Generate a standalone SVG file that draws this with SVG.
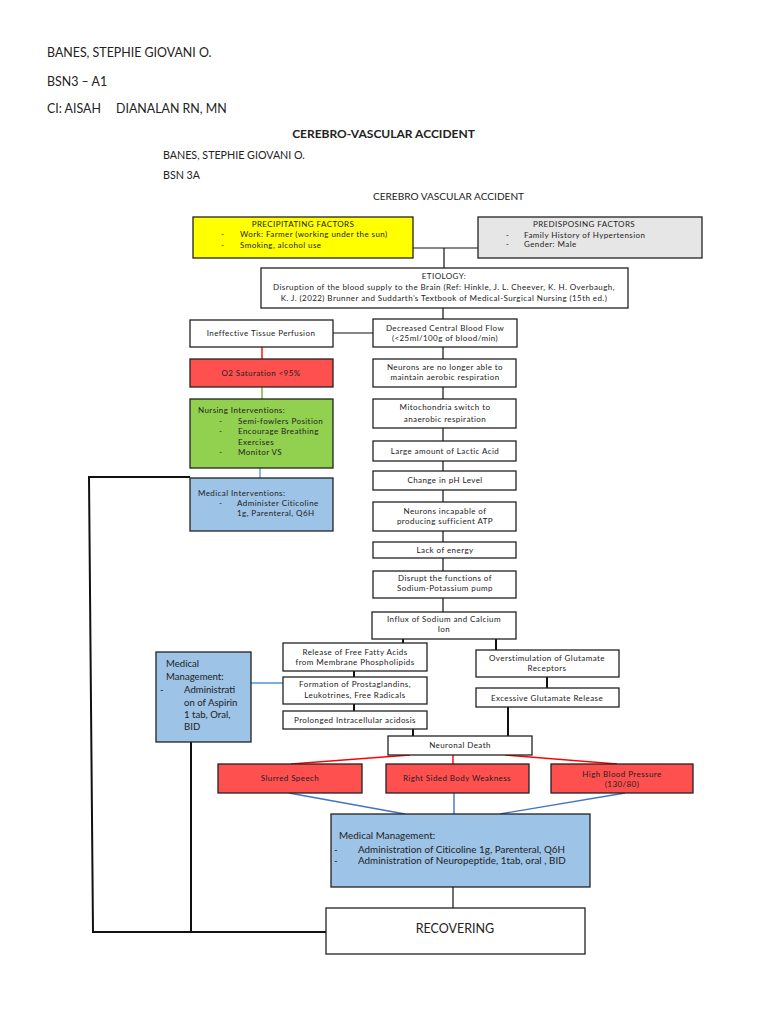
<svg xmlns="http://www.w3.org/2000/svg" width="768" height="1024" viewBox="0 0 768 1024">
<style>
text{font-family:Lato,"Liberation Sans",sans-serif;fill:#222}
.hd{font-size:12.4px}
.sm{font-size:10.7px}
.bx{stroke:#222;stroke-width:1.3}
.t{font-size:8px;letter-spacing:0.42px}
.c{text-anchor:middle}
.m{font-size:9.6px}
.mb{font-size:9.8px;letter-spacing:0.05px}
.k{stroke:#111;stroke-width:1.2;fill:none}
.kb{stroke:#111;stroke-width:2;fill:none}
.r{stroke:#ff0000;stroke-width:1.4;fill:none}
.b{stroke:#4472c4;stroke-width:1.4;fill:none}
</style>
<rect width="768" height="1024" fill="#fff"/>
<g id="header">
<text class="hd" x="47" y="57">BANES, STEPHIE GIOVANI O.</text>
<text class="hd" x="47" y="85.5">BSN3 – A1</text>
<text class="hd" x="47" y="113">CI: AISAH</text>
<text class="hd" x="116" y="113">DIANALAN RN, MN</text>
<text x="383.5" y="138" text-anchor="middle" font-weight="bold" font-size="12">CEREBRO-VASCULAR ACCIDENT</text>
<text class="sm" x="163" y="159">BANES, STEPHIE GIOVANI O.</text>
<text class="sm" x="163" y="179">BSN 3A</text>
<text x="448.5" y="200" text-anchor="middle" font-size="10.1">CEREBRO VASCULAR ACCIDENT</text>
</g>
<g id="connectors">
<path class="k" d="M413 248H478M444 248V268M443 308V319M333 333H373"/>
<path class="k" d="M443 347V359M443 387V399M443 428V441M443 461V471M443 490V502M443 531V542M443 558V571M443 598V612"/>
<path class="kb" d="M403 639V643M496 639V650M354 671V677M354 704V711M547 677V688M508 707V736M413 729V736"/>
<path d="M262 347V359" stroke="#ff0000" stroke-width="1.4"/>
<path d="M262 387V399" stroke="#70ad47" stroke-width="1.4"/>
<path d="M260 468V478" stroke="#5b9bd5" stroke-width="1.4"/>
<path d="M251 683H283" stroke="#5b9bd5" stroke-width="1.6"/>
<path class="r" d="M410 755L291 764M453 755V764M505 755L617 764"/>
<path class="b" d="M289 793L405 814M454 793V814M625 793L500 814"/>
<path class="k" d="M453 887V908"/>
<path class="kb" d="M190 477H89L93 932H326M191 742V932"/>
</g>
<g id="precipitating">
<rect class="bx" x="193" y="217" width="220" height="41" fill="#ffff00"/>
<text class="t c" x="303" y="227">PRECIPITATING FACTORS</text>
<text class="t" x="221" y="237">-</text>
<text class="t" x="240" y="237">Work: Farmer (working under the sun)</text>
<text class="t" x="221" y="248">-</text>
<text class="t" x="240" y="248">Smoking, alcohol use</text>
</g>
<g id="predisposing">
<rect class="bx" x="478" y="217" width="224" height="41" fill="#e7e6e6"/>
<text class="t c" x="584" y="227">PREDISPOSING FACTORS</text>
<text class="t" x="506" y="238">-</text>
<text class="t" x="524" y="238">Family History of Hypertension</text>
<text class="t" x="506" y="247">-</text>
<text class="t" x="524" y="247">Gender: Male</text>
</g>
<g id="etiology">
<rect class="bx" x="261" y="268" width="367" height="40" fill="#fff"/>
<text class="t c" x="444" y="279">ETIOLOGY:</text>
<text class="t c" x="444" y="289.5">Disruption of the blood supply to the Brain (Ref: Hinkle, J. L. Cheever, K. H. Overbaugh,</text>
<text class="t c" x="444" y="300.5">K. J. (2022) Brunner and Suddarth’s Textbook of Medical-Surgical Nursing (15th ed.)</text>
</g>
<g id="ineffective">
<rect class="bx" x="190" y="320" width="143" height="27" fill="#fff"/>
<text class="t c" x="261" y="336">Ineffective Tissue Perfusion</text>
</g>
<g id="decreased">
<rect class="bx" x="373" y="319" width="144" height="28" fill="#fff"/>
<text class="t c" x="445" y="330.5">Decreased Central Blood Flow</text>
<text class="t c" x="445" y="340.5">(&lt;25ml/100g of blood/min)</text>
</g>
<g id="o2">
<rect class="bx" x="190" y="359" width="143" height="28" fill="#ff5050"/>
<text class="t c" x="261" y="375.5">O2 Saturation &lt;95%</text>
</g>
<g id="nursing">
<rect class="bx" x="190" y="399" width="143" height="69" fill="#92d050"/>
<text class="t" x="198" y="413">Nursing Interventions:</text>
<text class="t" x="219" y="423.5">-</text>
<text class="t" x="238" y="423.5">Semi-fowlers Position</text>
<text class="t" x="219" y="434">-</text>
<text class="t" x="238" y="434">Encourage Breathing</text>
<text class="t" x="238" y="444.5">Exercises</text>
<text class="t" x="219" y="455">-</text>
<text class="t" x="238" y="455">Monitor VS</text>
</g>
<g id="medint">
<rect class="bx" x="190" y="478" width="143" height="53" fill="#9dc3e6"/>
<text class="t" x="198" y="496">Medical Interventions:</text>
<text class="t" x="219" y="506">-</text>
<text class="t" x="237" y="506">Administer Citicoline</text>
<text class="t" x="237" y="515.5">1g, Parenteral, Q6H</text>
</g>
<g id="neurons1">
<rect class="bx" x="373" y="359" width="143" height="28" fill="#fff"/>
<text class="t c" x="445" y="369.5">Neurons are no longer able to</text>
<text class="t c" x="445" y="379.5">maintain aerobic respiration</text>
</g>
<g id="mito">
<rect class="bx" x="373" y="399" width="143" height="29" fill="#fff"/>
<text class="t c" x="445" y="410">Mitochondria switch to</text>
<text class="t c" x="445" y="421.5">anaerobic respiration</text>
</g>
<g id="lactic">
<rect class="bx" x="373" y="441" width="143" height="20" fill="#fff"/>
<text class="t c" x="445" y="453.5">Large amount of Lactic Acid</text>
</g>
<g id="ph">
<rect class="bx" x="373" y="471" width="143" height="19" fill="#fff"/>
<text class="t c" x="445" y="483">Change in pH Level</text>
</g>
<g id="atp">
<rect class="bx" x="373" y="502" width="143" height="29" fill="#fff"/>
<text class="t c" x="445" y="513.5">Neurons incapable of</text>
<text class="t c" x="445" y="523.5">producing sufficient ATP</text>
</g>
<g id="energy">
<rect class="bx" x="373" y="542" width="143" height="16" fill="#fff"/>
<text class="t c" x="445" y="552.5">Lack of energy</text>
</g>
<g id="disrupt">
<rect class="bx" x="373" y="571" width="143" height="27" fill="#fff"/>
<text class="t c" x="445" y="580.5">Disrupt the functions of</text>
<text class="t c" x="445" y="590.5">Sodium-Potassium pump</text>
</g>
<g id="influx">
<rect class="bx" x="372" y="612" width="144" height="27" fill="#fff"/>
<text class="t c" x="444" y="622">Influx of Sodium and Calcium</text>
<text class="t c" x="444" y="631.5">Ion</text>
</g>
<g id="release">
<rect class="bx" x="283" y="643" width="144" height="28" fill="#fff"/>
<text class="t c" x="355" y="655">Release of Free Fatty Acids</text>
<text class="t c" x="355" y="665">from Membrane Phospholipids</text>
</g>
<g id="formation">
<rect class="bx" x="283" y="677" width="144" height="27" fill="#fff"/>
<text class="t c" x="355" y="687">Formation of Prostaglandins,</text>
<text class="t c" x="355" y="697.5">Leukotrines, Free Radicals</text>
</g>
<g id="prolonged">
<rect class="bx" x="283" y="711" width="144" height="18" fill="#fff"/>
<text class="t c" x="355" y="722.5">Prolonged Intracellular acidosis</text>
</g>
<g id="overstim">
<rect class="bx" x="476" y="650" width="143" height="27" fill="#fff"/>
<text class="t c" x="547" y="661">Overstimulation of Glutamate</text>
<text class="t c" x="547" y="671">Receptors</text>
</g>
<g id="excessive">
<rect class="bx" x="476" y="688" width="143" height="19" fill="#fff"/>
<text class="t c" x="547" y="700.5">Excessive Glutamate Release</text>
</g>
<g id="aspirin">
<rect class="bx" x="156" y="652" width="95" height="90" fill="#9dc3e6"/>
<text class="m" x="166" y="667">Medical</text>
<text class="m" x="166" y="680">Management:</text>
<text class="m" x="160" y="693">-</text>
<text class="m" x="184" y="693">Administrati</text>
<text class="m" x="184" y="705.5">on of Aspirin</text>
<text class="m" x="184" y="718">1 tab, Oral,</text>
<text class="m" x="184" y="730">BID</text>
</g>
<g id="death">
<rect class="bx" x="388" y="736" width="144" height="19" fill="#fff"/>
<text class="t c" x="460" y="747.5">Neuronal Death</text>
</g>
<g id="slurred">
<rect class="bx" x="218" y="764" width="144" height="29" fill="#ff5050"/>
<text class="t c" x="290" y="781">Slurred Speech</text>
</g>
<g id="weakness">
<rect class="bx" x="386" y="764" width="143" height="29" fill="#ff5050"/>
<text class="t c" x="457" y="781">Right Sided Body Weakness</text>
</g>
<g id="bp">
<rect class="bx" x="551" y="764" width="142" height="29" fill="#ff5050"/>
<text class="t c" x="622" y="776.5">High Blood Pressure</text>
<text class="t c" x="622" y="786.5">(130/80)</text>
</g>
<g id="medmgmt">
<rect class="bx" x="331" y="814" width="259" height="73" fill="#9dc3e6"/>
<text class="mb" x="339" y="838.5">Medical Management:</text>
<text class="mb" x="334" y="852.5">-</text>
<text class="mb" x="358" y="852.5">Administration of Citicoline 1g, Parenteral, Q6H</text>
<text class="mb" x="334" y="864">-</text>
<text class="mb" x="358" y="864">Administration of Neuropeptide, 1tab, oral , BID</text>
</g>
<g id="recovering">
<rect class="bx" x="326" y="908" width="259" height="46" fill="#fff"/>
<text x="455" y="932.5" text-anchor="middle" font-size="12.5">RECOVERING</text>
</g>
</svg>
